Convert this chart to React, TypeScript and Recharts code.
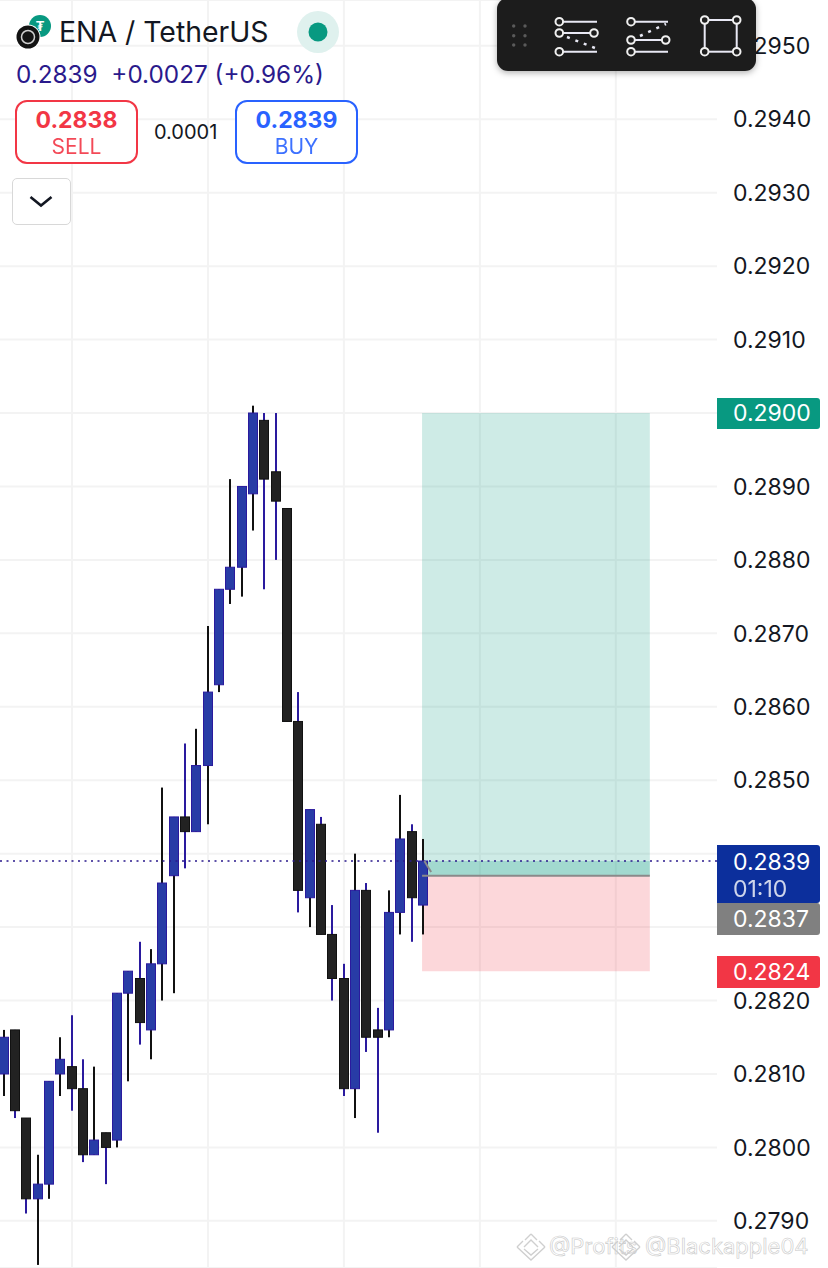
import React from "react";
import {
  Bar,
  CartesianGrid,
  ComposedChart,
  ReferenceArea,
  ReferenceLine,
  XAxis,
  YAxis,
} from "recharts";

const opens = [
  0.281, 0.2816, 0.2804, 0.2793, 0.2795, 0.281, 0.2811, 0.2808, 0.2799, 0.2802,
  0.2801, 0.2821, 0.2823, 0.2816, 0.2825, 0.2837, 0.2845, 0.2843, 0.2852, 0.2863,
  0.2876, 0.2879, 0.2889, 0.2899, 0.2892, 0.2887, 0.2858, 0.2834, 0.2844, 0.2829,
  0.2823, 0.2808, 0.2835, 0.2816, 0.2816, 0.2832, 0.2843, 0.2833,
];
const closes = [
  0.2815, 0.2805, 0.2793, 0.2795, 0.2809, 0.2812, 0.2808, 0.2799, 0.2801, 0.28,
  0.2821, 0.2824, 0.2817, 0.2825, 0.2836, 0.2845, 0.2843, 0.2852, 0.2862, 0.2876,
  0.2879, 0.289, 0.29, 0.2891, 0.2888, 0.2858, 0.2835, 0.2846, 0.2829, 0.2823,
  0.2808, 0.2835, 0.2815, 0.2815, 0.2832, 0.2842, 0.2834, 0.2839,
];
const highs = [
  0.2816, 0.2816, 0.2804, 0.2799, 0.2809, 0.2815, 0.2818, 0.2812, 0.2811, 0.2802,
  0.2821, 0.2824, 0.2828, 0.2827, 0.2849, 0.2845, 0.2855, 0.2857, 0.2871, 0.2876,
  0.2891, 0.289, 0.2901, 0.29, 0.29, 0.2887, 0.2862, 0.2846, 0.2845, 0.2833,
  0.2825, 0.284, 0.2836, 0.2819, 0.2835, 0.2848, 0.2844, 0.2842,
];
const lows = [
  0.2807, 0.2804, 0.2791, 0.2784, 0.2793, 0.2807, 0.2805, 0.2798, 0.2799, 0.2795,
  0.28, 0.2809, 0.2814, 0.2812, 0.282, 0.2821, 0.2838, 0.2843, 0.2844, 0.2862,
  0.2874, 0.2875, 0.2884, 0.2876, 0.288, 0.2858, 0.2832, 0.283, 0.2829, 0.282,
  0.2807, 0.2804, 0.2813, 0.2802, 0.2815, 0.2829, 0.2828, 0.2829,
];
const priceTicks = [
  0.279, 0.28, 0.281, 0.282, 0.283, 0.284, 0.285, 0.286, 0.287, 0.288, 0.289,
  0.29, 0.291, 0.292, 0.293, 0.294, 0.295,
];
// these tick labels sit under the price tags
const coveredTicks = [0.283, 0.284, 0.29];
const gridIndexes = [6, 18, 30, 42, 54];
const indexDomain = [-0.353, 62.93];

const lastPrice = 0.2839;
const entryPrice = 0.2837;
const targetPrice = 0.29;
const stopPrice = 0.2824;

const chartData = opens.map((open, index) => ({
  index,
  open,
  close: closes[index],
  high: highs[index],
  low: lows[index],
}));

const PLOT_WIDTH = 717;
const font = "Inter, sans-serif";
const BLUE_BODY = "#283ca6";
const BLUE_EDGE = "#2a1a9e";
const BLACK_BODY = "#222222";
const BLACK_EDGE = "#111111";

// wicks take the opposite colour to the body on this chart
function Candle(props: any) {
  const { x, y, width, height, payload } = props;
  const { open, close, high, low } = payload;
  const up = close >= open;
  const perPrice = height / (high - low);
  const bodyTop = y + (high - Math.max(open, close)) * perPrice;
  const bodyHeight = Math.abs(close - open) * perPrice;
  const mid = Math.round(x + width / 2);
  return (
    <g>
      <rect x={mid - 1} y={y} width={2} height={height} fill={up ? BLACK_EDGE : BLUE_EDGE} />
      <rect
        x={mid - 4.5}
        y={bodyTop}
        width={9}
        height={bodyHeight}
        fill={up ? BLUE_BODY : BLACK_BODY}
        stroke={up ? BLUE_EDGE : BLACK_EDGE}
        strokeWidth={1}
      />
    </g>
  );
}

function PriceTag({ top, height, bg, children }: any) {
  return (
    <div
      style={{
        position: "absolute",
        left: 717,
        top,
        width: 103,
        height,
        background: bg,
        borderRadius: "0 3px 3px 0",
        color: "#fff",
        fontSize: 23,
        paddingLeft: 16,
        boxSizing: "border-box",
      }}
    >
      {children}
    </div>
  );
}

function Toolbar() {
  const line = { stroke: "#e8e8f4", strokeWidth: 2 };
  const ring = { fill: "#1e1e1e", stroke: "#f0f0f0", strokeWidth: 2 };
  const dotted = { stroke: "#e8e8f4", strokeWidth: 2.5, strokeDasharray: "3 6" };
  return (
    <svg
      width={828}
      height={90}
      style={{ position: "absolute", left: 0, top: 0 }}
    >
      <defs>
        <filter id="barShadow" x="-5%" y="-20%" width="110%" height="140%">
          <feDropShadow dx="0" dy="2" stdDeviation="3" floodOpacity="0.3" />
        </filter>
      </defs>
      <rect x={497} y={-2} width={259} height={73} rx={11} fill="#1e1e1e" filter="url(#barShadow)" />
      {[513.7, 525].map((cx) =>
        [26, 35.7, 45].map((cy) => <circle key={`${cx}-${cy}`} cx={cx} cy={cy} r={1.7} fill="#5a5a5a" />)
      )}
      <line x1={563} y1={21.7} x2={597} y2={21.7} {...line} />
      <line x1={563} y1={33} x2={590} y2={33} {...line} />
      <line x1={563} y1={51.7} x2={597} y2={51.7} {...line} />
      <line x1={567} y1={37} x2={595} y2={48} {...dotted} />
      <circle cx={559.3} cy={21.7} r={3.8} {...ring} />
      <circle cx={559.3} cy={33} r={3.8} {...ring} />
      <circle cx={594} cy={33} r={3.8} {...ring} />
      <circle cx={559.3} cy={51.7} r={3.8} {...ring} />
      <line x1={635} y1={21.7} x2={668} y2={21.7} {...line} />
      <line x1={635} y1={40} x2={662} y2={40} {...line} />
      <line x1={635} y1={51.7} x2={668} y2={51.7} {...line} />
      <line x1={640} y1={36} x2={666} y2={24} {...dotted} />
      <circle cx={631} cy={21.7} r={3.8} {...ring} />
      <circle cx={631} cy={40} r={3.8} {...ring} />
      <circle cx={665.7} cy={40} r={3.8} {...ring} />
      <circle cx={631} cy={51.7} r={3.8} {...ring} />
      <rect x={704.7} y={20} width={32} height={31.7} fill="none" {...line} />
      <circle cx={704.7} cy={20} r={3.8} {...ring} />
      <circle cx={736.7} cy={20} r={3.8} {...ring} />
      <circle cx={704.7} cy={51.7} r={3.8} {...ring} />
      <circle cx={736.7} cy={51.7} r={3.8} {...ring} />
    </svg>
  );
}

function Header() {
  const box = (left: number, color: string, price: string, side: string) => (
    <div
      style={{
        position: "absolute",
        left,
        top: 100,
        width: 123,
        height: 64,
        boxSizing: "border-box",
        border: `2px solid ${color}`,
        borderRadius: 12,
        background: "#fff",
        color,
        textAlign: "center",
      }}
    >
      <div style={{ fontSize: 23, fontWeight: 700, lineHeight: "24px", marginTop: 6 }}>{price}</div>
      <div style={{ fontSize: 21, lineHeight: "26px", marginTop: 2, opacity: 0.9 }}>{side}</div>
    </div>
  );
  return (
    <>
      <svg width={60} height={60} style={{ position: "absolute", left: 0, top: 0 }}>
        <circle cx={40} cy={26} r={11} fill="#089981" />
        <text x={40} y={31} textAnchor="middle" fontSize={13} fontWeight={700} fill="#fff" fontFamily={font}>
          ₮
        </text>
        <circle cx={28} cy={37} r={12.5} fill="#fff" />
        <circle cx={28} cy={37} r={11.5} fill="#131313" />
        <circle cx={28} cy={37} r={6.5} fill="none" stroke="#cfcfcf" strokeWidth={1.5} />
      </svg>
      <div style={{ position: "absolute", left: 59, top: 14, fontSize: 28.4, lineHeight: "36px", color: "#131722", whiteSpace: "nowrap" }}>
        ENA / TetherUS
      </div>
      <svg width={50} height={50} style={{ position: "absolute", left: 293, top: 7 }}>
        <circle cx={25} cy={25} r={21} fill="#dff1ee" />
        <circle cx={25} cy={25} r={9.5} fill="#089981" />
      </svg>
      <div style={{ position: "absolute", left: 16, top: 59, fontSize: 24.3, lineHeight: "30px", color: "#2a1a8c", whiteSpace: "pre" }}>
        {"0.2839  +0.0027 (+0.96%)"}
      </div>
      {box(15, "#f23645", "0.2838", "SELL")}
      <div style={{ position: "absolute", left: 154, top: 120, fontSize: 20, lineHeight: "24px", color: "#131722" }}>0.0001</div>
      {box(235, "#2962ff", "0.2839", "BUY")}
      <div
        style={{
          position: "absolute",
          left: 12,
          top: 178,
          width: 59,
          height: 47,
          boxSizing: "border-box",
          border: "1.5px solid #d8d8d8",
          borderRadius: 5,
          background: "#fff",
        }}
      >
        <svg width={56} height={44}>
          <path d="M17.5 18 L28 26.5 L38.5 18" fill="none" stroke="#131722" strokeWidth={2.6} />
        </svg>
      </div>
    </>
  );
}

function Watermark() {
  const text = {
    position: "absolute" as const,
    top: 1231,
    fontSize: 22,
    lineHeight: "30px",
    color: "#fff",
    WebkitTextStroke: "0.6px #c8c8c8",
    whiteSpace: "nowrap" as const,
  };
  const logo = (left: number) => (
    <svg width={30} height={30} style={{ position: "absolute", left, top: 1232 }}>
      <path
        d="M15 2 L21 8 M15 2 L9 8 M7 9 L1 15 M23 9 L29 15 M1 15 L15 28 L29 15 M8 15 L15 8 L22 15 M8 17 L15 23 L22 17"
        fill="none"
        stroke="#cfcfcf"
        strokeWidth={1.4}
      />
    </svg>
  );
  return (
    <>
      {logo(516)}
      <div style={{ ...text, left: 549 }}>@Profits</div>
      {logo(611)}
      <div style={{ ...text, left: 645 }}>@Blackapple04</div>
    </>
  );
}

export default function App() {
  return (
    <div style={{ position: "absolute", left: 0, top: 0, width: 828, height: 1268, background: "#fff", overflow: "hidden", fontFamily: font }}>
      <ComposedChart
        width={828}
        height={1268}
        data={chartData}
        margin={{ top: 0, right: 0, bottom: 0, left: 0 }}
      >
        <CartesianGrid
          stroke="#f3f3f3"
          strokeWidth={2}
          verticalCoordinatesGenerator={() =>
            gridIndexes.map(
              (i) => ((i - indexDomain[0]) / (indexDomain[1] - indexDomain[0])) * PLOT_WIDTH
            )
          }
        />
        <XAxis
          dataKey="index"
          type="number"
          scale="linear"
          domain={indexDomain}
          ticks={gridIndexes}
          height={0}
          tick={false}
          axisLine={false}
          tickLine={false}
          allowDataOverflow
        />
        <YAxis
          orientation="right"
          width={111}
          type="number"
          domain={[0.278358, 0.295624]}
          ticks={priceTicks}
          interval={0}
          allowDataOverflow
          axisLine={false}
          tickLine={false}
          tickMargin={10}
          tick={{ fontSize: 23, fill: "#131722", fontFamily: font, textAnchor: "start" }}
          tickFormatter={(value: number) => (coveredTicks.includes(value) ? "" : value.toFixed(4))}
        />
        <ReferenceArea x1={36.9} x2={57} y1={entryPrice} y2={targetPrice} fill="#089981" fillOpacity={0.2} stroke="none" />
        <ReferenceArea x1={36.9} x2={57} y1={stopPrice} y2={entryPrice} fill="#f23645" fillOpacity={0.2} stroke="none" />
        <ReferenceArea x1={36.9} x2={57} y1={entryPrice} y2={lastPrice} fill="#089981" fillOpacity={0.22} stroke="none" />
        <ReferenceLine
          segment={[
            { x: 36.9, y: entryPrice },
            { x: 57, y: entryPrice },
          ]}
          stroke="#8a8a8a"
          strokeWidth={2}
        />
        <ReferenceLine y={lastPrice} stroke="#2a1a8c" strokeWidth={1.5} strokeDasharray="2 4.5" />
        <Bar
          dataKey={(d: any) => [d.low, d.high]}
          barSize={9}
          shape={Candle}
          isAnimationActive={false}
        />
        <ReferenceLine
          segment={[
            { x: 37.1, y: lastPrice },
            { x: 37.7, y: 0.28375 },
          ]}
          stroke="#8a8a8a"
          strokeWidth={2}
        />
      </ComposedChart>

      <PriceTag top={398} height={31} bg="#089981">
        <div style={{ lineHeight: "31px" }}>0.2900</div>
      </PriceTag>
      <PriceTag top={845} height={58} bg="#0c2f9c">
        <div style={{ lineHeight: "28px", marginTop: 3 }}>0.2839</div>
        <div style={{ lineHeight: "26px", opacity: 0.8 }}>01:10</div>
      </PriceTag>
      <PriceTag top={903} height={32} bg="#808080">
        <div style={{ lineHeight: "32px" }}>0.2837</div>
      </PriceTag>
      <PriceTag top={956} height={32} bg="#f23645">
        <div style={{ lineHeight: "32px" }}>0.2824</div>
      </PriceTag>

      <Header />
      <Toolbar />
      <Watermark />
    </div>
  );
}
